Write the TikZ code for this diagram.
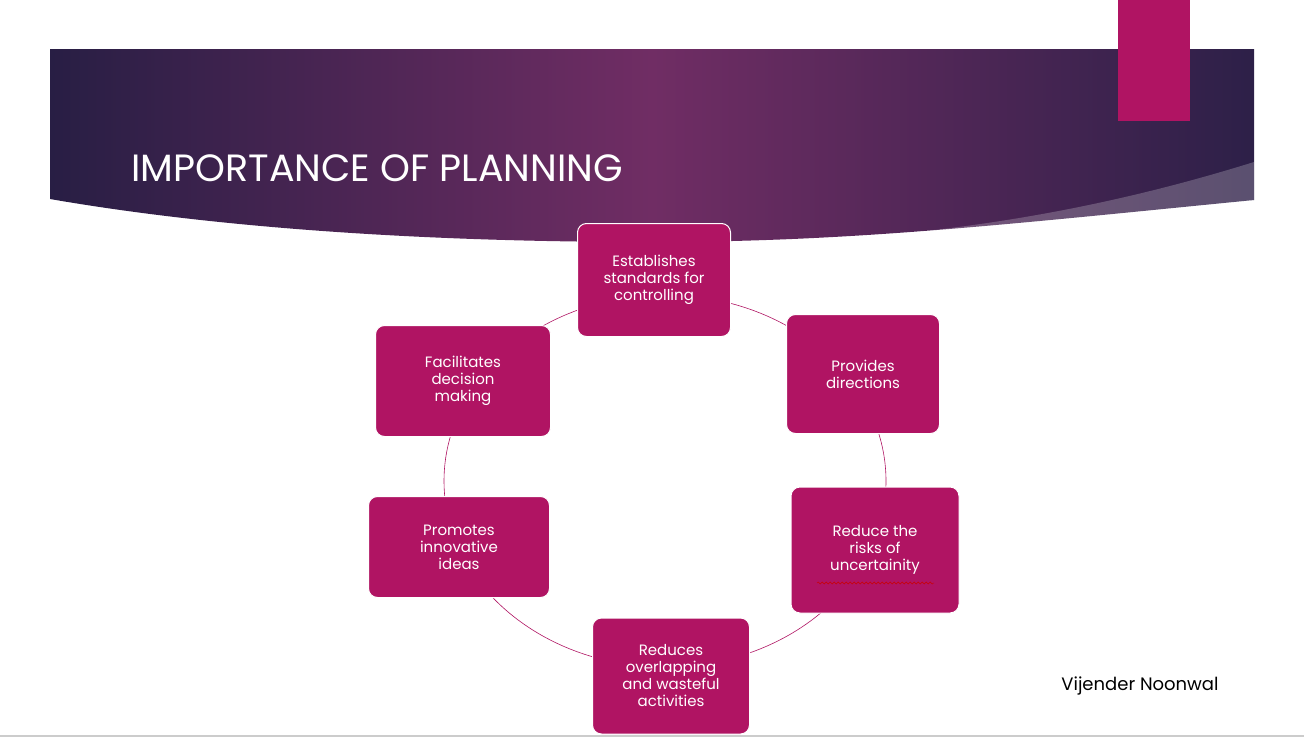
\documentclass[tikz,border=0pt]{standalone}
\usepackage{fontspec}
\setmainfont{Poppins}
\usetikzlibrary{decorations.pathmorphing}
\definecolor{plum}{RGB}{176,20,99}
\definecolor{bandL}{RGB}{40,30,68}
\definecolor{bandM}{RGB}{112,45,100}
\definecolor{bandR}{RGB}{45,32,72}
\tikzset{
  stepbox/.style={draw=white, line width=1pt, fill=plum, rounded corners=9pt,
    text=white, align=center, font=\fontsize{15}{17}\selectfont, inner sep=0pt},
  ring/.style={draw=plum, line width=0.6pt}
}
\begin{document}
\begin{tikzpicture}[x=1pt,y=-1pt]
\useasboundingbox (0,0) rectangle (1304,739);
\fill[white] (0,0) rectangle (1304,739);

%Shape: header band
\shade[left color=bandL, right color=bandR, middle color=bandM]
  (50,49) -- (1254,49) -- (1254,200) .. controls (1000,225) and (850,242) .. (650,242)
  .. controls (400,242) and (200,225) .. (50,199) -- cycle;
\fill[white, opacity=0.22] (1254,162) .. controls (1100,210) and (950,235) .. (780,242)
  .. controls (950,238) and (1100,222) .. (1254,200) -- cycle;
\fill[plum] (1118,0) rectangle (1190,121);
\node (title) [anchor=west, text=white, font=\fontsize{38}{40}\selectfont] at (128,168) {IMPORTANCE OF PLANNING};

%Shape: cycle ring
\draw[ring] (665,481) ellipse [x radius=221, y radius=186];

% Boxes
\node (est) [stepbox, minimum width=153pt, minimum height=113pt] at (654,280) {Establishes\\standards for\\controlling};
\node (dir) [stepbox, minimum width=153pt, minimum height=119pt] at (863,374) {Provides\\directions};
\node (risk) [stepbox, minimum width=168pt, minimum height=126pt] at (875,550) {Reduce the\\risks of\\uncertainity};
\node (over) [stepbox, minimum width=157pt, minimum height=116pt] at (671,676) {Reduces\\overlapping\\and wasteful\\activities};
\node (prom) [stepbox, minimum width=181pt, minimum height=101pt] at (459,547) {Promotes\\innovative\\ideas};
\node (fac) [stepbox, minimum width=175pt, minimum height=111pt] at (463,381) {Facilitates\\decision\\making};
\draw[red!80!black, decorate, decoration={snake, amplitude=1pt, segment length=4pt}]
  (817,583) -- (934,583);

\draw[gray!40, line width=1.5pt] (0,736) -- (1304,736);
\node (author) [font=\fontsize{18}{20}\selectfont] at (1140,686) {Vijender Noonwal};
\end{tikzpicture}
\end{document}
